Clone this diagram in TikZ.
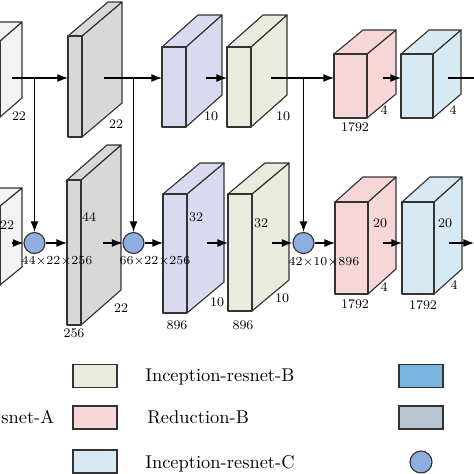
\documentclass[tikz,border=0pt]{standalone}
\usepackage{amsmath}
\usepackage{xcolor}
\usetikzlibrary{arrows.meta,calc,positioning}
\definecolor{edgegrey}{HTML}{333333}
\definecolor{mapwhite}{HTML}{F3F3F3}
\definecolor{mapgrey}{HTML}{D8D8D8}
\definecolor{maplav}{HTML}{D9DAF0}
\definecolor{mapbeige}{HTML}{E9EBDC}
\definecolor{mappink}{HTML}{F6D6D6}
\definecolor{mapblue}{HTML}{D7EAF4}
\definecolor{mergeblue}{HTML}{8EAEDF}
\definecolor{keyblue}{HTML}{7AB5E0}
\definecolor{keyslate}{HTML}{B7C6D0}
\tikzset{%
	face/.style    = {draw=edgegrey, line width=0.65pt, line join=round},
	merge/.style   = {circle, draw=edgegrey, fill=mergeblue, line width=0.65pt, minimum size=0.42cm, inner sep=0pt},
	dim/.style     = {font=\fontsize{7.5}{9}\selectfont, inner sep=0pt},
	legtext/.style = {font=\fontsize{10.5}{12}\selectfont, inner sep=0pt},
	key/.style     = {draw=edgegrey, line width=0.7pt, minimum width=0.88cm, minimum height=0.46cm, inner sep=0pt},
	flow/.style    = {line width=0.65pt, -{Latex[length=6pt,width=4.5pt]}},
}
% feature map: name, front x0, y0, x1, y1, depth dx, dy, colour
\newcommand{\fmap}[8]{%
	\filldraw[face,fill=#8] (#4,#3) -- ++(#6,#7) -- ++(0,{#5-(#3)}) -- (#4,#5) -- cycle;
	\filldraw[face,fill=#8] (#2,#3) -- ++(#6,#7) -- ++({#4-(#2)},0) -- (#4,#3) -- cycle;
	\filldraw[face,fill=#8] (#2,#3) rectangle (#4,#5);
	\coordinate (#1-in) at (#2,\rowy);
	\coordinate (#1-out) at ({#4+0.55*(#6)},\rowy);
}

\begin{document}
\begin{tikzpicture}[x=0.02cm,y=-0.02cm]
	\useasboundingbox (0,0) rectangle (474,474);
	\clip (0,0) rectangle (474,474);
	
	% upper row
	\def\rowy{78}
	\fmap{a0}{-60}{41}{0}{117}{22}{-19}{mapwhite}
	\fmap{a1}{68}{36}{82}{137}{40}{-34}{mapgrey}
	\fmap{a2}{162}{47}{186}{127}{36}{-32}{maplav}
	\fmap{a3}{227}{47}{251}{127}{36}{-32}{mapbeige}
	\fmap{a4}{334}{54}{367}{118}{29}{-24}{mappink}
	\fmap{a5}{401}{54}{433}{118}{28}{-24}{mapblue}
	\coordinate (topend) at (474,\rowy);
	
	% lower row
	\def\rowy{243}
	\fmap{b0}{-60}{206}{0}{285}{22}{-18}{mapwhite}
	\fmap{b1}{67}{180}{81}{325}{40}{-35}{mapgrey}
	\fmap{b2}{163}{194}{187}{313}{37}{-31}{maplav}
	\fmap{b3}{228}{194}{252}{311}{37}{-31}{mapbeige}
	\fmap{b4}{335}{202}{368}{294}{28}{-25}{mappink}
	\fmap{b5}{402}{202}{434}{294}{28}{-25}{mapblue}
	\coordinate (lowend) at (474,\rowy);
	
	\node[merge] (m1) at (34.5,243) {};
	\node[merge] (m2) at (133.5,243) {};
	\node[merge] (m3) at (303.5,243) {};
	
	\foreach \x/\y/\t [count=\i] in {19/116/22,116/124/22,211/116/10,283/116/10,384/110/4,355/127/1792,453/110/4,7/225/22,89/217/44,121/308/22,74/333/256,196/217/32,217/302/10,177/325/896,261/223/32,282/298/10,243/325/896,380/223/20,384/287/4,355/304/1792,445/223/20,454/285/4,423/305/1792} \node[dim] (lab\i) at (\x,\y) {\t};
	
	\node[dim] (s1) at (57,261) {$44{\times}22{\times}256$};
	\node[dim] (s2) at (155,261) {$66{\times}22{\times}256$};
	\node[dim] (s3) at (324,262) {$42{\times}10{\times}896$};
	
	% connections
	\draw[flow] (a0-out) -- (a1-in);
	\draw[flow] (a1-out) -- (a2-in);
	\draw[flow] (a2-out) -- (a3-in);
	\draw[flow] (a3-out) -- (a4-in);
	\draw[flow] (a4-out) -- (a5-in);
	\draw[line width=0.65pt] (a5-out) -- (topend);
	\draw[flow] (m1 |- a0-out) -- (m1);
	\draw[flow] (m2 |- a1-out) -- (m2);
	\draw[flow] (m3 |- a3-out) -- (m3);
	\draw[flow] (b0-out) -- (m1);
	\draw[flow] (m1) -- (b1-in);
	\draw[flow] (b1-out) -- (m2);
	\draw[flow] (m2) -- (b2-in);
	\draw[flow] (b2-out) -- (b3-in);
	\draw[flow] (b3-out) -- (m3);
	\draw[flow] (m3) -- (b4-in);
	\draw[flow] (b4-out) -- (b5-in);
	\draw[flow] (b5-out) -- (lowend);
	
	% legend
	\node[key, fill=mapbeige] (k1) at (95,376) {};
	\node[key, fill=mappink] (k2) at (95,417.5) {};
	\node[key, fill=mapblue] (k3) at (95,461.5) {};
	\node[key, fill=keyblue] (k4) at (421,376) {};
	\node[key, fill=keyslate] (k5) at (421,417.5) {};
	\node[merge, minimum size=0.44cm] (k6) at (421,462) {};
	\node[legtext, anchor=base west] (t1) at (145,381) {Inception-resnet-B};
	\node[legtext, anchor=base west] (t2) at (147,423) {Reduction-B};
	\node[legtext, anchor=base west] (t3) at (145,468) {Inception-resnet-C};
	\node[legtext, anchor=base west] (t4) at (1,423) {snet-A};
\end{tikzpicture}
\end{document}
